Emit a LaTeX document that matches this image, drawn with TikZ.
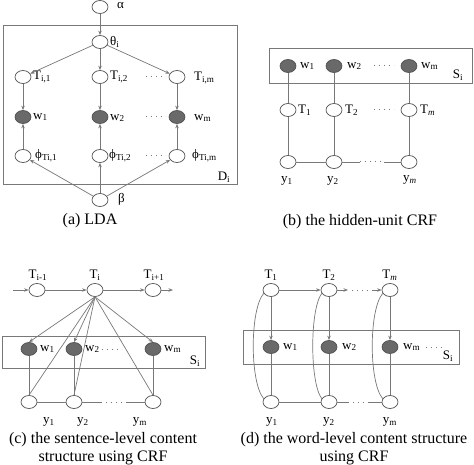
\documentclass[tikz,border=0pt]{standalone}
\usepackage{fontspec}
\setmainfont{Liberation Serif}
\usetikzlibrary{shapes.geometric,arrows.meta}
\definecolor{edgegray}{RGB}{120,120,120}
\definecolor{nodegray}{RGB}{80,80,80}
\definecolor{fillgray}{RGB}{105,105,105}
\begin{document}
\begin{tikzpicture}[x=1pt,y=-1pt,
  var/.style={ellipse, draw=nodegray, fill=white, minimum width=16pt, minimum height=13pt, inner sep=0pt, line width=0.7pt},
  obs/.style={var, fill=fillgray},
  lbl/.style={font=\fontsize{13}{13}\selectfont, inner sep=0pt},
  captxt/.style={font=\fontsize{16}{18}\selectfont, align=center, inner sep=0pt},
  conn/.style={draw=edgegray, line width=0.7pt},
  arr/.style={conn, -{Stealth[length=4.5pt,width=3.5pt]}},
  plate/.style={draw=edgegray, line width=0.8pt},
  dotline/.style={draw=edgegray, line width=1pt, dash pattern=on 1pt off 4pt}
]
\useasboundingbox (0,0) rectangle (474,465);

% ---------------- (a) LDA ----------------
\draw[plate] (3,25) rectangle (237,184);
\node[lbl] (lDi) at (224,177) {D\textsubscript{i}};
\node[var] (alpha) at (100,7) {};
\node[lbl,anchor=west] (lalpha) at (117,6) {α};
\node[var] (theta) at (100,42) {};
\node[lbl,anchor=west] (ltheta) at (110,42) {θ\textsubscript{i}};
\node[var] (aT1) at (23,77) {};
\node[var] (aT2) at (100,77) {};
\node[var] (aTm) at (177,77) {};
\node[lbl,anchor=west] (laT1) at (33,77) {T\textsubscript{i,1}};
\node[lbl,anchor=west] (laT2) at (110,77) {T\textsubscript{i,2}};
\node[lbl,anchor=west] (laTm) at (194,78) {T\textsubscript{i,m}};
\node[obs] (aw1) at (23,117) {};
\node[obs] (aw2) at (100,117) {};
\node[obs] (awm) at (177,117) {};
\node[lbl,anchor=west] (law1) at (33,117) {w\textsubscript{1}};
\node[lbl,anchor=west] (law2) at (110,118) {w\textsubscript{2}};
\node[lbl,anchor=west] (lawm) at (194,118) {w\textsubscript{m}};
\node[var] (ap1) at (23,156) {};
\node[var] (ap2) at (100,156) {};
\node[var] (apm) at (177,156) {};
\node[lbl,anchor=west] (lap1) at (35,156) {ϕ\textsubscript{Ti,1}};
\node[lbl,anchor=west] (lap2) at (109,156) {ϕ\textsubscript{Ti,2}};
\node[lbl,anchor=west] (lapm) at (192,156) {ϕ\textsubscript{Ti,m}};
\node[var] (beta) at (100,200) {};
\node[lbl,anchor=west] (lbeta) at (118,199) {β};
\draw[dotline] (146,77) -- (166,77);
\draw[dotline] (146,117) -- (166,117);
\draw[dotline] (146,156) -- (166,156);
\draw[arr] (alpha) -- (theta);
\foreach \t in {aT1,aT2,aTm} \draw[arr] (theta) -- (\t);
\draw[arr] (aT1) -- (aw1);
\draw[arr] (aT2) -- (aw2);
\draw[arr] (aTm) -- (awm);
\draw[arr] (ap1) -- (aw1);
\draw[arr] (ap2) -- (aw2);
\draw[arr] (apm) -- (awm);
\foreach \p in {ap1,ap2,apm} \draw[arr] (beta) -- (\p);
\node[captxt] (capa) at (90,221) {(a) LDA};

% ---------------- (b) hidden-unit CRF ----------------
\draw[plate] (269,48) rectangle (472,83);
\node[lbl] (lbS) at (458,75) {S\textsubscript{i}};
\node[obs] (bw1) at (288,66) {};
\node[obs] (bw2) at (334,66) {};
\node[obs] (bwm) at (409,66) {};
\node[lbl,anchor=west] (lbw1) at (300,66) {w\textsubscript{1}};
\node[lbl,anchor=west] (lbw2) at (347,66) {w\textsubscript{2}};
\node[lbl,anchor=west] (lbwm) at (421,66) {w\textsubscript{m}};
\node[var] (bT1) at (288,110) {};
\node[var] (bT2) at (334,110) {};
\node[var] (bTm) at (409,110) {};
\node[lbl,anchor=west] (lbT1) at (298,110) {T\textsubscript{1}};
\node[lbl,anchor=west] (lbT2) at (345,110) {T\textsubscript{2}};
\node[lbl,anchor=west] (lbTm) at (420,110) {T\textsubscript{\textit{m}}};
\node[var] (by1) at (288,162) {};
\node[var] (by2) at (334,162) {};
\node[var] (bym) at (409,162) {};
\node[lbl] (lby1) at (287,181) {y\textsubscript{1}};
\node[lbl] (lby2) at (333,181) {y\textsubscript{2}};
\node[lbl] (lbym) at (410,180) {y\textsubscript{\textit{m}}};
\draw[dotline] (374,66) -- (394,66);
\draw[dotline] (374,110) -- (394,110);
\draw[conn] (bw1) -- (bT1) -- (by1);
\draw[conn] (bw2) -- (bT2) -- (by2);
\draw[conn] (bwm) -- (bTm) -- (bym);
\draw[conn] (by1) -- (by2);
\path (by2) -- (bym) coordinate[pos=0.3] (bd1) coordinate[pos=0.72] (bd2);
\draw[conn] (by2) -- (bd1);
\draw[dotline] (bd1) -- (bd2);
\draw[conn] (bd2) -- (bym);
\node[captxt] (capb) at (360,222) {(b) the hidden-unit CRF};

% ---------------- (c) sentence-level ----------------
\draw[plate] (2,336) rectangle (205,368);
\node[lbl] (lcS) at (195,361) {S\textsubscript{i}};
\node[var] (cTp) at (37,290) {};
\node[var] (cTi) at (95,290) {};
\node[var] (cTn) at (153,290) {};
\node[lbl] (lcTp) at (38,275) {T\textsubscript{i-1}};
\node[lbl] (lcTi) at (95,275) {T\textsubscript{i}};
\node[lbl] (lcTn) at (154,275) {T\textsubscript{i+1}};
\coordinate (cin) at (13,290);
\coordinate (cout) at (173,290);
\node[obs] (cw1) at (29,349) {};
\node[obs] (cw2) at (74,349) {};
\node[obs] (cwm) at (153,349) {};
\node[lbl,anchor=west] (lcw1) at (40,349) {w\textsubscript{1}};
\node[lbl,anchor=west] (lcw2) at (85,349) {w\textsubscript{2}};
\node[lbl,anchor=west] (lcwm) at (164,349) {w\textsubscript{m}};
\node[var] (cy1) at (29,402) {};
\node[var] (cy2) at (74,402) {};
\node[var] (cym) at (153,402) {};
\node[lbl] (lcy1) at (49,422) {y\textsubscript{1}};
\node[lbl] (lcy2) at (83,422) {y\textsubscript{2}};
\node[lbl] (lcym) at (140,422) {y\textsubscript{m}};
\draw[dotline] (102,349) -- (122,349);
\draw[arr] (cin) -- (cTp);
\draw[arr] (cTp) -- (cTi);
\draw[arr] (cTi) -- (cTn);
\draw[arr] (cTn) -- (cout);
\draw[conn] (cw1) -- (cy1);
\draw[conn] (cw2) -- (cy2);
\draw[conn] (cwm) -- (cym);
\draw[conn] (cTi.south) -- (cy1.north);
\draw[conn] (cTi.south) -- (cy2.north);
\draw[conn] (cTi.south) -- (cym.north);
\draw[arr] (cTi.south) -- (cw1.north);
\draw[arr] (cTi.south) -- (cw2.north);
\draw[arr] (cTi.south) -- (cwm.north);
\draw[conn] (cy1) -- (cy2);
\path (cy2) -- (cym) coordinate[pos=0.3] (cd1) coordinate[pos=0.72] (cd2);
\draw[conn] (cy2) -- (cd1);
\draw[dotline] (cd1) -- (cd2);
\draw[conn] (cd2) -- (cym);
\node[captxt] (capc) at (103,449) {(c) the sentence-level content\\structure using CRF};

% ---------------- (d) word-level ----------------
\draw[plate] (243,330) rectangle (459,364);
\node[lbl] (ldS) at (448,356) {S\textsubscript{i}};
\node[var] (dT1) at (271,290) {};
\node[var] (dT2) at (329,290) {};
\node[var] (dTm) at (390,290) {};
\node[lbl] (ldT1) at (271,275) {T\textsubscript{1}};
\node[lbl] (ldT2) at (329,275) {T\textsubscript{2}};
\node[lbl] (ldTm) at (390,275) {T\textsubscript{\textit{m}}};
\coordinate (dd1) at (348,290);
\coordinate (dd2) at (373,290);
\node[obs] (dw1) at (271,347) {};
\node[obs] (dw2) at (329,347) {};
\node[obs] (dwm) at (390,347) {};
\node[lbl,anchor=west] (ldw1) at (283,347) {w\textsubscript{1}};
\node[lbl,anchor=west] (ldw2) at (342,347) {w\textsubscript{2}};
\node[lbl,anchor=west] (ldwm) at (403,347) {w\textsubscript{m}};
\draw[dotline] (426,347) -- (442,347);
\node[var] (dy1) at (271,402) {};
\node[var] (dy2) at (329,402) {};
\node[var] (dym) at (390,402) {};
\node[lbl] (ldy1) at (272,422) {y\textsubscript{1}};
\node[lbl] (ldy2) at (329,422) {y\textsubscript{2}};
\node[lbl] (ldym) at (390,422) {y\textsubscript{m}};
\draw[arr] (dT1) -- (dT2);
\draw[arr] (dT2) -- (dd1);
\draw[dotline] (dd1) ++(4,0) -- (dd2);
\draw[arr] (dd2) -- (dTm);
\draw[arr] (dT1) -- (dw1);
\draw[arr] (dT2) -- (dw2);
\draw[arr] (dTm) -- (dwm);
\draw[conn] (dw1) -- (dy1);
\draw[conn] (dw2) -- (dy2);
\draw[conn] (dwm) -- (dym);
\draw[conn] (dT1.205) .. controls +(-14,16) and +(-14,-16) .. (dy1.155);
\draw[conn] (dT2.205) .. controls +(-12,16) and +(-12,-16) .. (dy2.155);
\draw[conn] (dTm.205) .. controls +(-14,16) and +(-14,-16) .. (dym.155);
\draw[conn] (dy1) -- (dy2);
\path (dy2) -- (dym) coordinate[pos=0.25] (de1) coordinate[pos=0.72] (de2);
\draw[conn] (dy2) -- (de1);
\draw[dotline] (de1) -- (de2);
\draw[conn] (de2) -- (dym);
\node[captxt] (capd) at (354,449) {(d) the word-level content structure\\using CRF};
\end{tikzpicture}
\end{document}
